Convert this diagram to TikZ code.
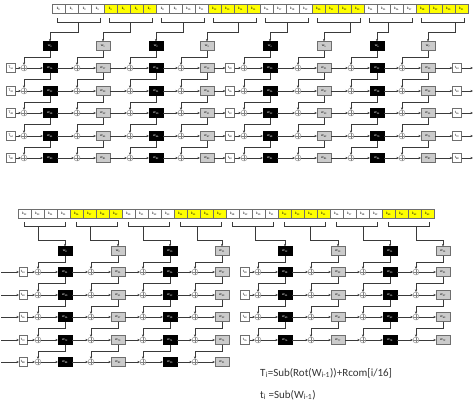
\documentclass[tikz,border=0pt]{standalone}
\usepackage{fontspec}
\setmainfont{Carlito}
\usetikzlibrary{arrows.meta}
\definecolor{ln}{HTML}{3A3A3A}
\definecolor{kyel}{HTML}{FFFF00}
\definecolor{gfill}{HTML}{CBCBCB}
\definecolor{gdraw}{HTML}{6E6E6E}
\tikzset{
  lbl/.style={font=\fontsize{3.6}{4}\selectfont, inner sep=0pt, outer sep=0pt},
  kcell/.style={lbl, draw=gdraw, line width=0.4pt, minimum width=13pt, minimum height=9pt},
  wbox/.style={lbl, line width=0.5pt, minimum width=14pt, minimum height=9pt},
  bbox/.style={wbox, draw=black, fill=black, text=white},
  gbox/.style={wbox, draw=gdraw, fill=gfill, text=black},
  tbox/.style={lbl, draw=gdraw, fill=white, line width=0.5pt, minimum width=9pt, minimum height=9pt},
  xo/.style={circle, draw=gray, fill=white, line width=0.4pt, minimum size=6pt, inner sep=0pt, outer sep=0pt,
    path picture={\draw[gray, line width=0.3pt] (path picture bounding box.north) -- (path picture bounding box.south) (path picture bounding box.west) -- (path picture bounding box.east);}},
  arr/.style={draw=ln, line width=0.5pt, -{Stealth[length=2.6pt,width=2.2pt]}},
  lin/.style={draw=ln, line width=0.5pt},
  formula/.style={anchor=west, inner sep=0pt, font=\fontsize{11}{13}\selectfont, text=black!80},
}
\begin{document}
\begin{tikzpicture}[x=1pt,y=-1pt]
\useasboundingbox (0,0) rectangle (474,405);
% ---------- key rows
\foreach \i in {0,...,31}{
  \pgfmathtruncatemacro{\g}{mod(int(\i/4),2)}
  \ifnum\g=1 \def\kc{kyel}\else\def\kc{white}\fi
  \pgfmathtruncatemacro{\m}{\i+32}
  \node[kcell, fill=\kc] (kt\i) at ({58.5+13*\i},8.5) {k\textsubscript{\i}};
  \node[kcell, fill=\kc] (kb\i) at ({24.5+13*\i},213.5) {k\textsubscript{\m}};
}
% ---------- top word boxes and XORs
\foreach \r/\y in {0/46,1/68,2/91,3/113,4/136,5/158}{
  \foreach \j/\x/\s in {0/50/bbox,1/103/gbox,2/156/bbox,3/207/gbox,4/270/bbox,5/324/gbox,6/377/bbox,7/428/gbox}{
    \pgfmathtruncatemacro{\n}{ifthenelse(\r==0,\j,16*\r+\j)}
    \node[\s] (wt\r-\j) at (\x,\y) {w\textsubscript{\n}};
    \ifnum\r>0 \node[xo] (ct\r-\j) at (\x-26,\y) {};\fi
  }
}
\foreach \r/\y in {1/68,2/91,3/113,4/136,5/158}{
  \pgfmathtruncatemacro{\na}{16*\r}
  \pgfmathtruncatemacro{\nb}{16*\r+4}
  \pgfmathtruncatemacro{\nc}{16*\r+8}
  \node[tbox] (Tt\r) at (11,\y) {T\textsubscript{\na}};
  \node[tbox] (tt\r) at (230,\y) {t\textsubscript{\nb}};
  \node[tbox] (Rt\r) at (457,\y) {t\textsubscript{\nc}};
  \coordinate (Re\r) at (473,\y);
}
% ---------- bottom word boxes and XORs
\foreach \r/\y in {0/251,1/272,2/295,3/317,4/340,5/362}{
  \foreach \j/\x/\s in {0/65/bbox,1/118/gbox,2/170/bbox,3/222/gbox,4/285/bbox,5/338/gbox,6/390/bbox,7/443/gbox}{
    \pgfmathtruncatemacro{\n}{ifthenelse(\r==0,8+\j,16*\r+8+\j)}
    \pgfmathtruncatemacro{\ok}{ifthenelse(\r<5,1,ifthenelse(\j<4,1,0))}
    \ifnum\ok=1
      \node[\s] (wb\r-\j) at (\x,\y) {w\textsubscript{\n}};
      \ifnum\r>0 \node[xo] (cb\r-\j) at (\x-27,\y) {};\fi
    \fi
  }
}
\foreach \r/\y in {1/272,2/295,3/317,4/340,5/362}{
  \pgfmathtruncatemacro{\na}{16*\r+8}
  \node[tbox, minimum width=8pt] (Tb\r) at (23,\y) {t\textsubscript{\na}};
  \coordinate (Ls\r) at (1,\y);
  \draw[arr] (Ls\r) -- (Tb\r);
  \draw[arr] (Tb\r) -- (cb\r-0);
  \ifnum\r<5
    \pgfmathtruncatemacro{\nb}{16*\r+12}
    \node[tbox] (tb\r) at (245,\y) {t\textsubscript{\nb}};
    \draw[arr] (tb\r) -- (cb\r-4);
  \fi
}
% ---------- brackets
\foreach \g/\d in {0/78,1/130,2/183,3/238,4/287,5/350,6/388,7/455}{
  \pgfmathsetmacro{\xa}{57.5+52*\g}
  \pgfmathsetmacro{\xb}{100+52*\g}
  \draw[lin] (\xa,18) -- (\xa,22) -- (\xb,22) -- (\xb,18);
  \coordinate (bt\g) at (\d,22);
  \draw[arr] (bt\g) -- (\d,32) -| (wt0-\g.north);
}
\foreach \g/\d in {0/38,1/90,2/143,3/197,4/255,5/310,6/363,7/416}{
  \pgfmathsetmacro{\xa}{24+52*\g}
  \pgfmathsetmacro{\xb}{65+52*\g}
  \draw[lin] (\xa,222) -- (\xa,226) -- (\xb,226) -- (\xb,222);
  \coordinate (bb\g) at (\d,226);
  \draw[arr] (bb\g) -- (\d,240) -| (wb0-\g.north);
}
% ---------- top connectors
\foreach \r in {1,...,5}{
  \pgfmathtruncatemacro{\p}{\r-1}
  \draw[arr] (Tt\r) -- (ct\r-0);
  \foreach \j in {0,...,7}{
    \draw[arr] (ct\r-\j) -- (wt\r-\j);
    \draw[arr] (wt\p-\j.south) -- ++(0,6.5) -| (ct\r-\j.north);
  }
  \foreach \j/\k in {0/1,1/2,2/3,4/5,5/6,6/7}
    \draw[arr] (wt\r-\j) -- (ct\r-\k);
  \draw[arr] (wt\r-3) -- (tt\r);
  \draw[arr] (tt\r) -- (ct\r-4);
  \draw[arr] (wt\r-7) -- (Rt\r);
  \draw[arr] (Rt\r) -- (Re\r);
}
% ---------- bottom connectors
\foreach \r in {1,...,5}{
  \pgfmathtruncatemacro{\p}{\r-1}
  \foreach \j in {0,...,3}{
    \draw[arr] (cb\r-\j) -- (wb\r-\j);
    \draw[arr] (wb\p-\j.south) -- ++(0,6.5) -| (cb\r-\j.north);
  }
  \foreach \j/\k in {0/1,1/2,2/3}
    \draw[arr] (wb\r-\j) -- (cb\r-\k);
  \ifnum\r<5
    \foreach \j in {4,...,7}{
      \draw[arr] (cb\r-\j) -- (wb\r-\j);
      \draw[arr] (wb\p-\j.south) -- ++(0,6.5) -| (cb\r-\j.north);
    }
    \foreach \j/\k in {4/5,5/6,6/7}
      \draw[arr] (wb\r-\j) -- (cb\r-\k);
  \fi
}
% ---------- formulas
\node[formula] (f1) at (260,373) {T\textsubscript{i}=Sub(Rot(W\textsubscript{i-1}))+Rcom[i/16]};
\node[formula] (f2) at (260,395) {t\textsubscript{i} =Sub(W\textsubscript{i-1})};
\end{tikzpicture}
\end{document}
